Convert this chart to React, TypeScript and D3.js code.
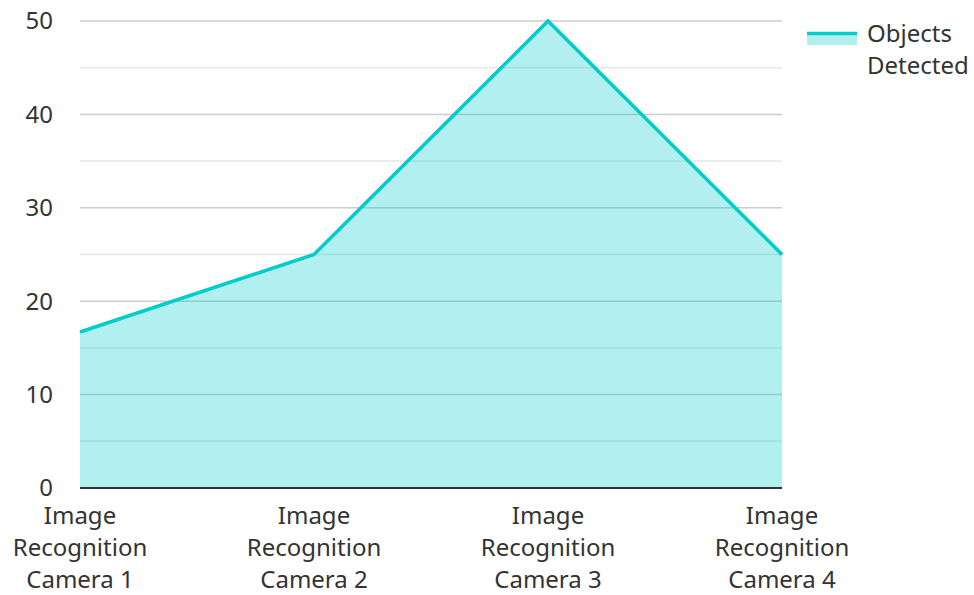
import * as d3 from "d3";
import { useEffect, useRef } from "react";

const categories = [
  "Image Recognition Camera 1",
  "Image Recognition Camera 2",
  "Image Recognition Camera 3",
  "Image Recognition Camera 4",
];
const objectsDetected = [16.7, 25, 50, 25];
const yTicks = [0, 10, 20, 30, 40, 50];
const minorTicks = [5, 15, 25, 35, 45];
const seriesName = ["Objects", "Detected"];

export default function App() {
  const ref = useRef<SVGSVGElement>(null);

  useEffect(() => {
    if (!ref.current) return;
    const width = 974;
    const height = 595;
    const margin = { top: 21, right: 192, bottom: 107, left: 80 };
    const innerWidth = width - margin.left - margin.right;
    const innerHeight = height - margin.top - margin.bottom;
    const font = "'Noto Sans', sans-serif";
    const fontSize = "24px";

    const svg = d3.select(ref.current);
    svg.selectAll("*").remove();

    const g = svg
      .append("g")
      .attr("transform", `translate(${margin.left},${margin.top})`);

    const x = d3
      .scalePoint<string>()
      .domain(categories)
      .range([0, innerWidth]);
    const y = d3.scaleLinear().domain([0, 50]).range([innerHeight, 0]);

    // grid
    g.selectAll(".minor")
      .data(minorTicks)
      .join("line")
      .attr("x1", 0)
      .attr("x2", innerWidth)
      .attr("y1", (d) => y(d))
      .attr("y2", (d) => y(d))
      .attr("stroke", "#e6e6e6")
      .attr("stroke-width", 1.5);

    g.selectAll(".major")
      .data(yTicks.filter((d) => d > 0))
      .join("line")
      .attr("x1", 0)
      .attr("x2", innerWidth)
      .attr("y1", (d) => y(d))
      .attr("y2", (d) => y(d))
      .attr("stroke", "#cccccc")
      .attr("stroke-width", 1.5);

    const data = categories.map((c, i) => ({ c, v: objectsDetected[i] }));

    const area = d3
      .area<{ c: string; v: number }>()
      .x((d) => x(d.c)!)
      .y0(innerHeight)
      .y1((d) => y(d.v));
    const line = d3
      .line<{ c: string; v: number }>()
      .x((d) => x(d.c)!)
      .y((d) => y(d.v));

    g.append("path")
      .datum(data)
      .attr("d", area)
      .attr("fill", "#00cccc")
      .attr("fill-opacity", 0.3);

    g.append("path")
      .datum(data)
      .attr("d", line)
      .attr("fill", "none")
      .attr("stroke", "#00cccc")
      .attr("stroke-width", 3.5)
      .attr("stroke-linejoin", "miter");

    // baseline
    g.append("line")
      .attr("x1", 0)
      .attr("x2", innerWidth)
      .attr("y1", innerHeight)
      .attr("y2", innerHeight)
      .attr("stroke", "#333333")
      .attr("stroke-width", 2);

    // y labels
    g.selectAll(".ylab")
      .data(yTicks)
      .join("text")
      .attr("x", -27)
      .attr("y", (d) => y(d))
      .attr("dy", "0.35em")
      .attr("text-anchor", "end")
      .style("font-family", font)
      .style("font-size", fontSize)
      .style("fill", "#333333")
      .text((d) => d);

    // x labels
    const xl = g
      .selectAll(".xlab")
      .data(categories)
      .join("text")
      .attr("text-anchor", "middle")
      .style("font-family", font)
      .style("font-size", fontSize)
      .style("fill", "#333333");
    xl.each(function (d) {
      const words = d.split(" ");
      const lines = [words[0], words[1], words.slice(2).join(" ")];
      d3.select(this)
        .selectAll("tspan")
        .data(lines)
        .join("tspan")
        .attr("x", x(d)!)
        .attr("y", (_, i) => innerHeight + 36 + i * 32)
        .text((t) => t);
    });

    // legend
    const legend = svg.append("g").attr("transform", "translate(807,32)");
    legend
      .append("rect")
      .attr("x", 0)
      .attr("y", 0)
      .attr("width", 50)
      .attr("height", 13)
      .attr("fill", "#00cccc")
      .attr("fill-opacity", 0.3);
    legend
      .append("line")
      .attr("x1", 0)
      .attr("x2", 50)
      .attr("y1", 1.5)
      .attr("y2", 1.5)
      .attr("stroke", "#00cccc")
      .attr("stroke-width", 3.5);
    legend
      .append("text")
      .style("font-family", font)
      .style("font-size", fontSize)
      .style("fill", "#333333")
      .selectAll("tspan")
      .data(seriesName)
      .join("tspan")
      .attr("x", 60)
      .attr("y", (_, i) => 10 + i * 32)
      .text((t) => t);
  }, []);

  return (
    <svg
      ref={ref}
      width={974}
      height={595}
      style={{ position: "absolute", left: 0, top: 0 }}
    />
  );
}
